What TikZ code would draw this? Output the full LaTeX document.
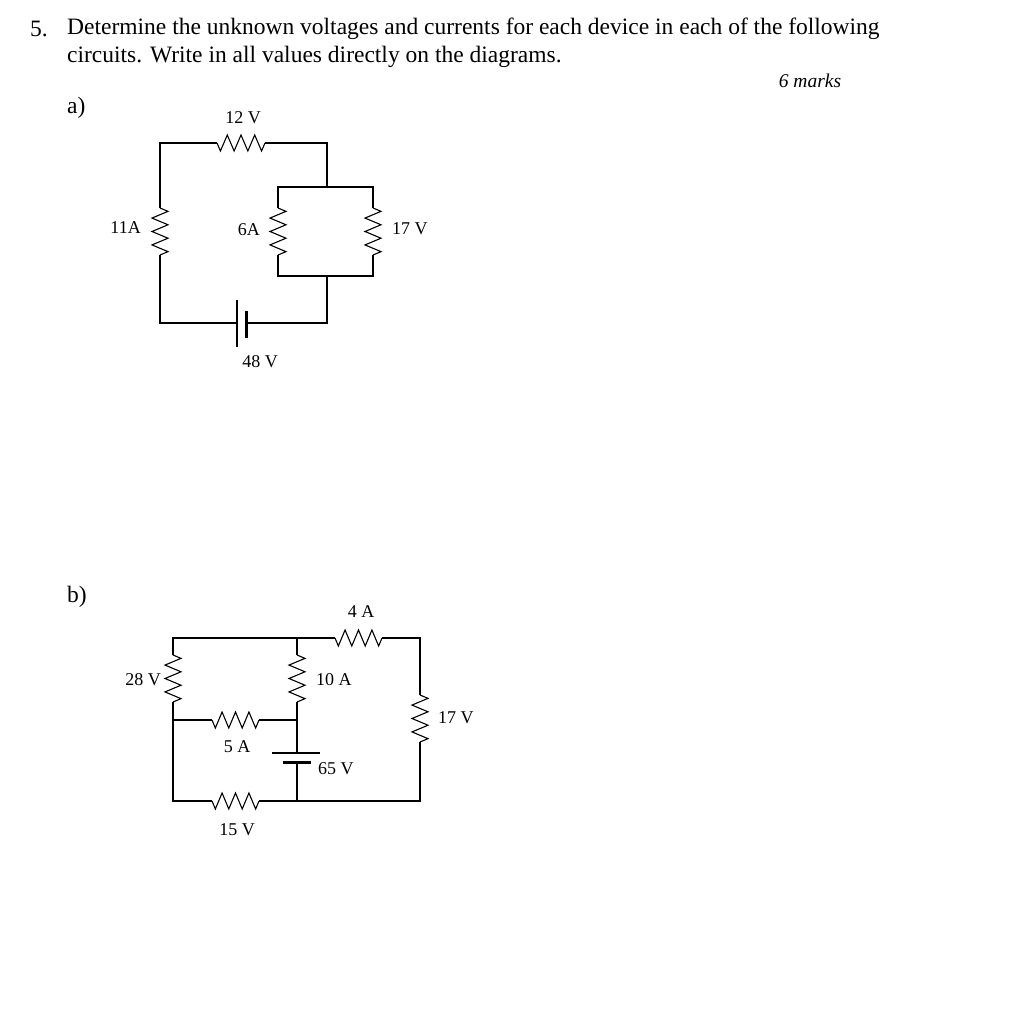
\documentclass[tikz,border=0pt]{standalone}
\usepackage{fontspec}
\setmainfont{Liberation Serif}
\newcommand\hres[3]{\draw[wire] (#1,#3) \foreach \k in {1,...,7}{ -- ({#1+(2*\k-1)*(#2-#1)/14},{#3+8*(2*mod(\k,2)-1)}) } -- (#2,#3);}
\newcommand\vres[3]{\draw[wire] (#3,#1) \foreach \k in {1,...,7}{ -- ({#3+8*(2*mod(\k,2)-1)},{#1+(2*\k-1)*(#2-#1)/14}) } -- (#3,#2);}
\begin{document}
\begin{tikzpicture}[x=1pt,y=-1pt,wire/.style={line width=1.1pt,line join=miter},lbl/.style={font=\fontsize{18}{20}\selectfont,inner sep=0pt},txt/.style={font=\fontsize{23.5}{26}\selectfont,inner sep=0pt,anchor=west}]
\useasboundingbox (0,0) rectangle (1013,1024);
% header
\node[txt] (n5) at (30,29) {5.};
\node[txt] (l1) at (67,29) {Determine the unknown voltages and currents for each device in each of the following};
\node[txt] (l2) at (67,57) {circuits. Write in all values directly on the diagrams.};
\node[lbl,font=\itshape\fontsize{19.5}{21}\selectfont] (mk) at (810,81) {6 marks};
\node[txt] (pa) at (67,108) {a)};
\node[txt] (pb) at (67,597) {b)};
% circuit a
\draw[wire] (217,143) -- (160,143) -- (160,208);
\hres{217}{265}{143}
\draw[wire] (265,143) -- (327,143) -- (327,187);
\vres{208}{255}{160}
\draw[wire] (160,255) -- (160,323) -- (237,323);
\draw[wire] (246,323) -- (327,323) -- (327,276);
\draw[wire] (278,208) -- (278,187) -- (373,187) -- (373,208);
\vres{208}{255}{278}
\vres{208}{255}{373}
\draw[wire] (278,255) -- (278,276) -- (373,276) -- (373,255);
\draw[wire] (237,300) -- (237,347);
\draw[line width=3pt] (246,311) -- (246,338);
\node[lbl] (a12) at (243,118) {12 V};
\node[lbl,anchor=east] (a11) at (141,228) {11A};
\node[lbl,anchor=east] (a6) at (260,230) {6A};
\node[lbl,anchor=west] (a17) at (392,229) {17 V};
\node[lbl] (a48) at (260,362) {48 V};
% circuit b
\draw[wire] (173,655) -- (173,638) -- (335,638);
\hres{335}{382}{638}
\draw[wire] (382,638) -- (420,638) -- (420,695);
\vres{655}{702}{173}
\vres{655}{702}{297}
\draw[wire] (297,638) -- (297,655);
\vres{695}{742}{420}
\draw[wire] (173,702) -- (173,801) -- (212,801);
\hres{212}{259}{801}
\draw[wire] (259,801) -- (420,801) -- (420,742);
\draw[wire] (173,720) -- (212,720);
\hres{212}{259}{720}
\draw[wire] (259,720) -- (297,720) -- (297,702);
\draw[wire] (297,720) -- (297,753);
\draw[wire] (272,753) -- (320,753);
\draw[line width=3pt] (283,762) -- (311,762);
\draw[wire] (297,762) -- (297,801);
\node[lbl] (b4) at (361,612) {4 A};
\node[lbl,anchor=east] (b28) at (161,680) {28 V};
\node[lbl,anchor=west] (b10) at (316,680) {10 A};
\node[lbl,anchor=west] (b17) at (438,718) {17 V};
\node[lbl] (b5) at (237,747) {5 A};
\node[lbl,anchor=west] (b65) at (318,769) {65 V};
\node[lbl] (b15) at (237,830) {15 V};
\end{tikzpicture}
\end{document}
